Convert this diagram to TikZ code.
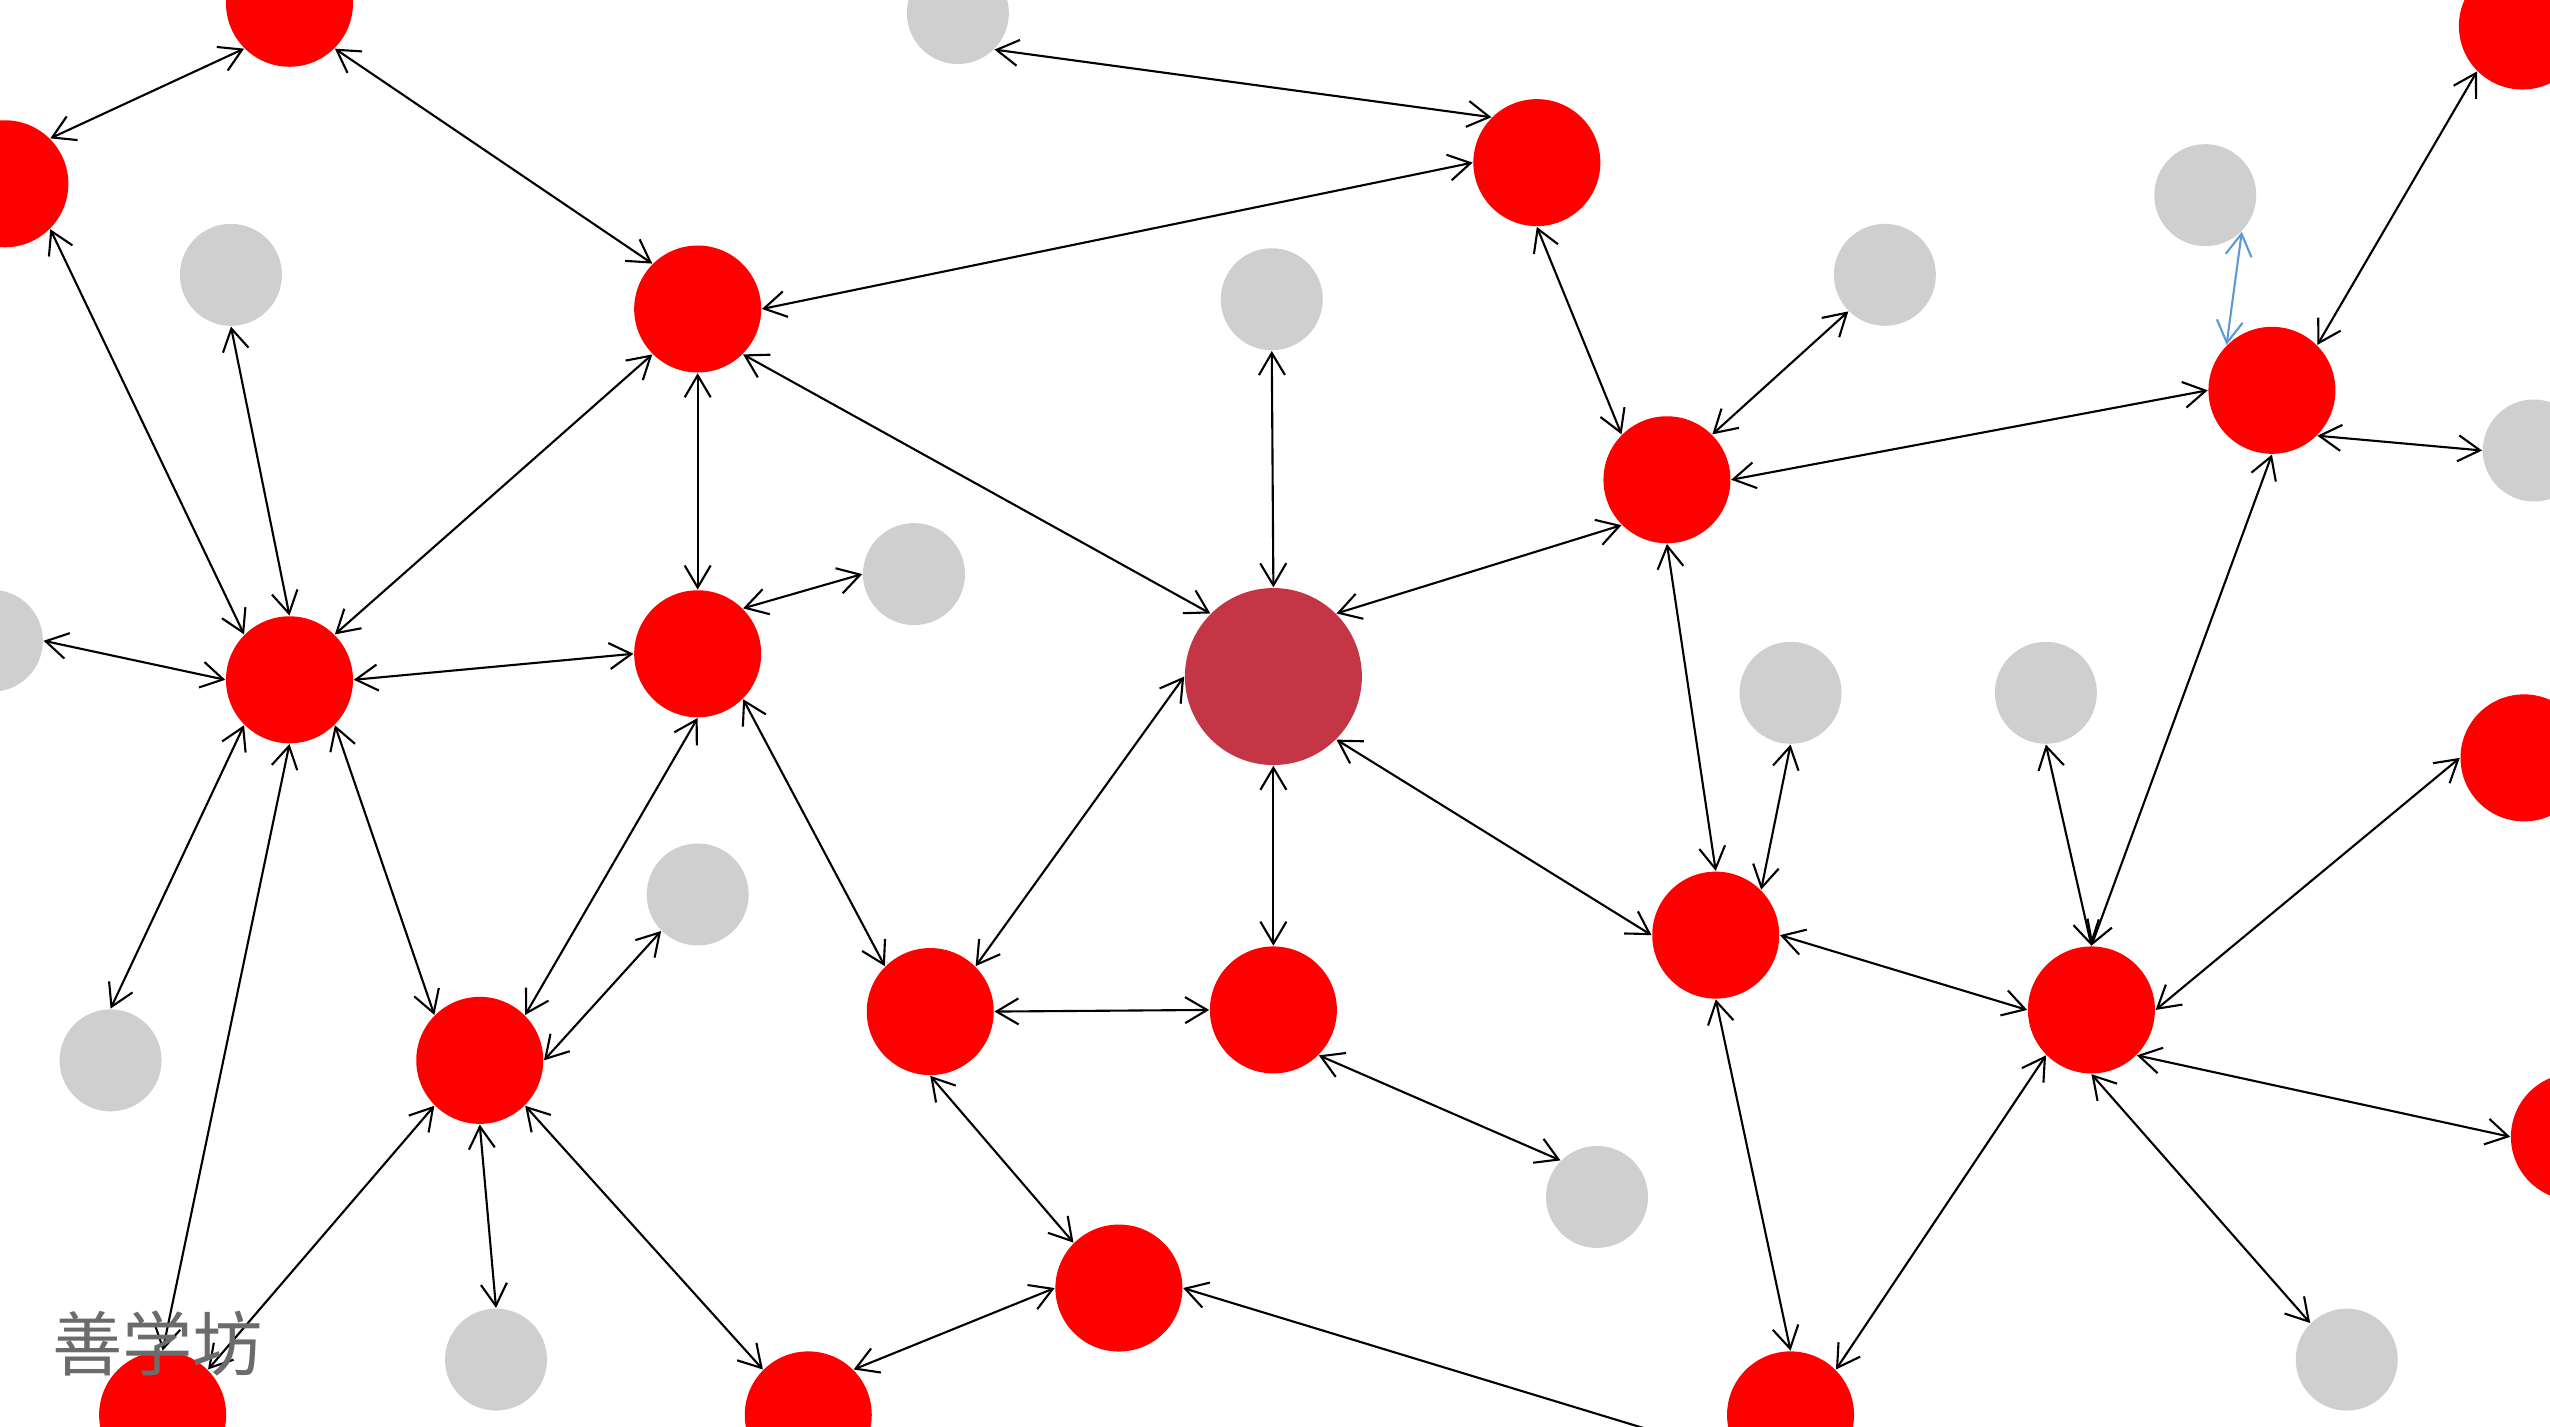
\documentclass[tikz,border=0pt]{standalone}
\usepackage{fontspec}
\newfontfamily\cjk{Noto Sans CJK SC}
\usetikzlibrary{arrows.meta}

% colours of the picture
\definecolor{ballred}{HTML}{FF0000}
\definecolor{ballgrey}{HTML}{D0CFD0}
\definecolor{hubred}{HTML}{C43546}
\definecolor{linkblue}{HTML}{5B9BD5}
\definecolor{logogrey}{HTML}{6B6B6B}

\tikzset{
  redball/.style={circle, fill=ballred, inner sep=0pt, minimum size=12.7mm},
  greyball/.style={circle, fill=ballgrey, inner sep=0pt, minimum size=10.2mm},
  hubball/.style={circle, fill=hubred, inner sep=0pt, minimum size=17.7mm},
  link/.style={{Straight Barb[length=2.2mm,width=2.6mm]}-{Straight Barb[length=2.2mm,width=2.6mm]}, line width=0.6pt},
  halflink/.style={{Straight Barb[length=2.2mm,width=2.6mm]}-, line width=0.6pt}
}

\begin{document}
\begin{tikzpicture}[x=0.16263mm, y=-0.16263mm]

% Fix the size of the page
\useasboundingbox (0,0) rectangle (1568,877);
\clip (0,0) rectangle (1568,877);

% The hub in the middle
\node[hubball] (hub) at (783,416) {};

% Red nodes
\node[redball] (r1) at (178,2) {}; \node[redball] (r2) at (3,113) {};
\node[redball] (r3) at (429,190) {}; \node[redball] (r4) at (945,100) {};
\node[redball] (r5) at (1551,16) {}; \node[redball] (r6) at (1397,240) {};
\node[redball] (r7) at (1025,295) {}; \node[redball] (r8) at (178,418) {};
\node[redball] (r9) at (429,402) {}; \node[redball] (r10) at (1552,466) {};
\node[redball] (r11) at (1055,575) {}; \node[redball] (r12) at (1286,621) {};
\node[redball] (r13) at (572,622) {}; \node[redball] (r14) at (783,621) {};
\node[redball] (r15) at (295,652) {}; \node[redball] (r16) at (688,792) {};
\node[redball] (r17) at (1583,699) {}; \node[redball] (r18) at (100,870) {};
\node[redball] (r19) at (497,870) {}; \node[redball] (r20) at (1101,870) {};

% Grey nodes
\node[greyball] (g1) at (589,8) {}; \node[greyball] (g2) at (142,169) {};
\node[greyball] (g3) at (782,184) {}; \node[greyball] (g4) at (1159,169) {};
\node[greyball] (g5) at (1356,120) {}; \node[greyball] (g6) at (1558,277) {};
\node[greyball] (g7) at (-5,394) {}; \node[greyball] (g8) at (562,353) {};
\node[greyball] (g9) at (1101,426) {}; \node[greyball] (g10) at (1258,426) {};
\node[greyball] (g11) at (429,550) {}; \node[greyball] (g12) at (68,652) {};
\node[greyball] (g13) at (982,736) {}; \node[greyball] (g14) at (305,836) {};
\node[greyball] (g15) at (1443,836) {};

% Loose end below the picture
\coordinate (out) at (1030,884);

% Links, upper part
\draw[link] (r1.south west) -- (r2.north east); \draw[link] (r1.south east) -- (r3.north west);
\draw[link] (g1.south east) -- (r4.north west); \draw[link] (r4.west) -- (r3.east);
\draw[link] (r2.south east) -- (r8.north west); \draw[link] (g2.south) -- (r8.north);
\draw[link] (r3.south west) -- (r8.north east); \draw[link] (r3.south) -- (r9.north);
\draw[link] (r3.south east) -- (hub.north west); \draw[link] (g3.south) -- (hub.north);
\draw[link] (r4.south) -- (r7.north west); \draw[link] (g4.south west) -- (r7.north east);
\draw[link, linkblue] (g5.south east) -- (r6.north west); \draw[link] (r5.south west) -- (r6.north east);
\draw[link] (r7.east) -- (r6.west); \draw[link] (r6.south east) -- (g6.west);
\draw[link] (r7.south west) -- (hub.north east);

% Links, middle part
\draw[link] (g7.east) -- (r8.west); \draw[link] (r8.east) -- (r9.west);
\draw[link] (r9.north east) -- (g8.west); \draw[link] (r8.south west) -- (g12.north);
\draw[link] (r8.south) -- (r18.north); \draw[link] (r8.south east) -- (r15.north west);
\draw[link] (r9.south) -- (r15.north east); \draw[link] (r9.south east) -- (r13.north west);
\draw[link] (hub.west) -- (r13.north east); \draw[link] (hub.south) -- (r14.north);
\draw[link] (hub.south east) -- (r11.west); \draw[link] (r7.south) -- (r11.north);
\draw[link] (g9.south) -- (r11.north east); \draw[link] (g10.south) -- (r12.north);
\draw[link] (r6.south) -- (r12.north); \draw[link] (r10.west) -- (r12.east);
\draw[link] (r11.east) -- (r12.west);

% Links, lower part
\draw[link] (r12.south east) -- (r17.west); \draw[link] (r12.south west) -- (r20.north east);
\draw[link] (r11.south) -- (r20.north); \draw[link] (r12.south) -- (g15.north west);
\draw[link] (r13.east) -- (r14.west); \draw[link] (r14.south east) -- (g13.north west);
\draw[link] (r13.south) -- (r16.north west); \draw[link] (r16.west) -- (r19.north east);
\draw[halflink] (r16.east) -- (out);
\draw[link] (r15.east) -- (g11.south west); \draw[link] (r15.south) -- (g14.north);
\draw[link] (r15.south west) -- (r18.north east); \draw[link] (r15.south east) -- (r19.north west);

% Logo text
\node[text=logogrey, font=\cjk\fontsize{20}{24}\selectfont] (logo) at (97,826) {善学坊};
\end{tikzpicture}
\end{document}
